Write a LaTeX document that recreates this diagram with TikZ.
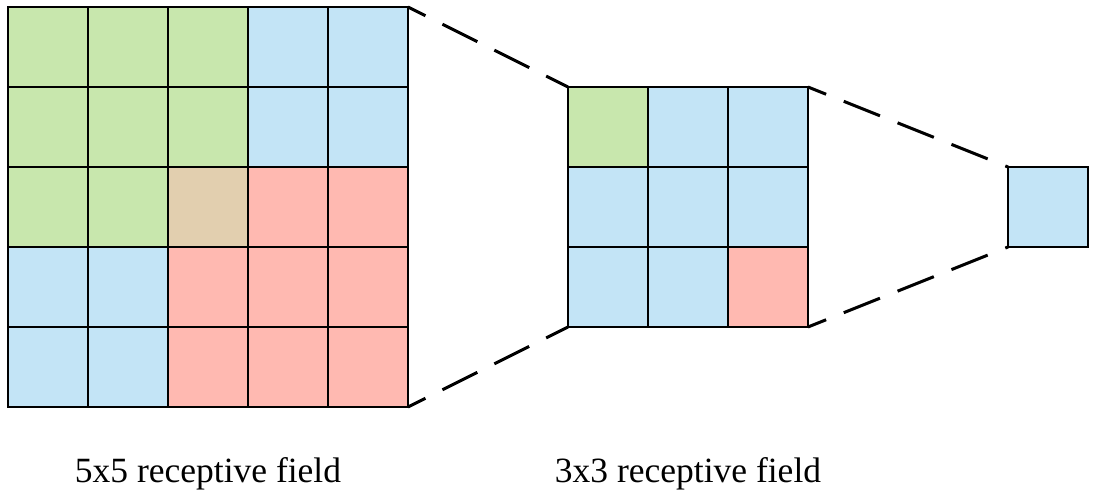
\documentclass[tikz,border=0pt]{standalone}
\usepackage{fontspec}
\setmainfont{Liberation Serif}
\definecolor{cg}{HTML}{C8E7AD}
\definecolor{cb}{HTML}{C3E4F6}
\definecolor{cr}{HTML}{FFB9B1}
\definecolor{ct}{HTML}{E2CFAF}
\tikzset{
  cell/.style={draw=black, line width=1.8pt, minimum size=80pt, inner sep=0pt, outer sep=0pt, fill=#1},
  link/.style={line width=3pt, dash pattern=on 39pt off 19pt, dash phase=19.5pt},
  lbl/.style={anchor=base, font=\fontsize{35.5}{40}\selectfont, inner sep=0pt}
}
\begin{document}
\begin{tikzpicture}[x=1pt,y=-1pt]
\useasboundingbox (0,0) rectangle (1094,498);
% left 5x5 grid
\foreach \r/\cols in {1/{1/cg,2/cg,3/cg,4/cb,5/cb},2/{1/cg,2/cg,3/cg,4/cb,5/cb},3/{1/cg,2/cg,3/ct,4/cr,5/cr},4/{1/cb,2/cb,3/cr,4/cr,5/cr},5/{1/cb,2/cb,3/cr,4/cr,5/cr}}{
  \foreach \c/\col in \cols {
    \node[cell=\col] (L-\r-\c) at ({8+80*\c-40},{7+80*\r-40}) {};
  }
}
% middle 3x3 grid
\foreach \r/\cols in {1/{1/cg,2/cb,3/cb},2/{1/cb,2/cb,3/cb},3/{1/cb,2/cb,3/cr}}{
  \foreach \c/\col in \cols {
    \node[cell=\col] (M-\r-\c) at ({568+80*\c-40},{87+80*\r-40}) {};
  }
}
% right single cell
\node[cell=cb] (R) at (1048,207) {};
% connectors
\draw[link] (L-1-5.north east) -- (M-1-1.north west);
\draw[link] (L-5-5.south east) -- (M-3-1.south west);
\draw[link] (M-1-3.north east) -- (R.north west);
\draw[link] (M-3-3.south east) -- (R.south west);
% labels
\node[lbl] (t1) at (208,482) {5x5 receptive field};
\node[lbl] (t2) at (688,482) {3x3 receptive field};
\end{tikzpicture}
\end{document}
